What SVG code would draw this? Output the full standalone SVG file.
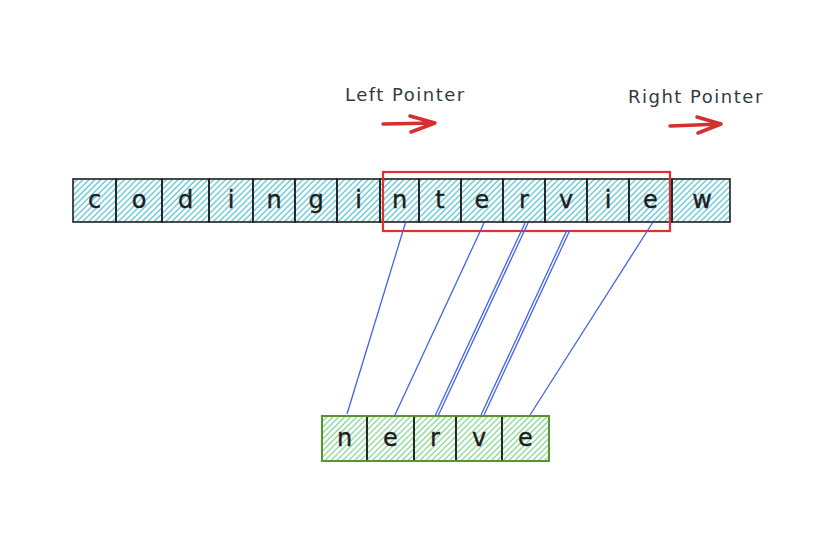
<svg xmlns="http://www.w3.org/2000/svg" width="825" height="547" viewBox="0 0 825 547">
<defs>
<pattern id="hatchC" patternUnits="userSpaceOnUse" width="4.2" height="4.2" patternTransform="rotate(45)">
<line x1="1" y1="0" x2="1" y2="4.2" stroke="#15aabf" stroke-opacity="0.65" stroke-width="1.4"/>
</pattern>
<pattern id="hatchG" patternUnits="userSpaceOnUse" width="4.2" height="4.2" patternTransform="rotate(45)">
<line x1="1" y1="0" x2="1" y2="4.2" stroke="#40c057" stroke-opacity="0.6" stroke-width="1.4"/>
</pattern>
</defs>
<style>
.tc{fill:url(#hatchC);stroke:#1e1e1e;stroke-width:1.6}
.gc{fill:url(#hatchG);stroke:#1e1e1e;stroke-width:1.6}
.lt{font-family:"DejaVu Sans",sans-serif;font-size:24px;fill:#1e1e1e;stroke:#1e1e1e;stroke-width:0.4;text-anchor:middle}
.lbl{font-family:"DejaVu Sans",sans-serif;font-size:18px;letter-spacing:1.5px;fill:#343a40}
.con{stroke:#4263eb;stroke-width:1.3;fill:none}
.arr{stroke:#d62f2f;stroke-width:3.5;fill:none;stroke-linecap:round;stroke-linejoin:round}
</style>
<rect width="825" height="547" fill="#ffffff"/>

<g id="top-row">
<g id="t0"><rect class="tc" x="73" y="179" width="43" height="43"/><text class="lt" x="94.5" y="208">c</text></g>
<g id="t1"><rect class="tc" x="116" y="179" width="46" height="43"/><text class="lt" x="139" y="208">o</text></g>
<g id="t2"><rect class="tc" x="162" y="179" width="47" height="43"/><text class="lt" x="185.5" y="208">d</text></g>
<g id="t3"><rect class="tc" x="209" y="179" width="44" height="43"/><text class="lt" x="231" y="208">i</text></g>
<g id="t4"><rect class="tc" x="253" y="179" width="42" height="43"/><text class="lt" x="274" y="208">n</text></g>
<g id="t5"><rect class="tc" x="295" y="179" width="42" height="43"/><text class="lt" x="316" y="208">g</text></g>
<g id="t6"><rect class="tc" x="337" y="179" width="43" height="43"/><text class="lt" x="358.5" y="208">i</text></g>
<g id="t7"><rect class="tc" x="380" y="179" width="39" height="43"/><text class="lt" x="399.5" y="208">n</text></g>
<g id="t8"><rect class="tc" x="419" y="179" width="42" height="43"/><text class="lt" x="440" y="208">t</text></g>
<g id="t9"><rect class="tc" x="461" y="179" width="42" height="43"/><text class="lt" x="482" y="208">e</text></g>
<g id="t10"><rect class="tc" x="503" y="179" width="42" height="43"/><text class="lt" x="524" y="208">r</text></g>
<g id="t11"><rect class="tc" x="545" y="179" width="42" height="43"/><text class="lt" x="566" y="208">v</text></g>
<g id="t12"><rect class="tc" x="587" y="179" width="42" height="43"/><text class="lt" x="608" y="208">i</text></g>
<g id="t13"><rect class="tc" x="629" y="179" width="43" height="43"/><text class="lt" x="650.5" y="208">e</text></g>
<g id="t14"><rect class="tc" x="672" y="179" width="58" height="43"/><text class="lt" x="702" y="208">w</text></g>
</g>

<g id="window">
<rect x="383" y="172" width="287" height="59" fill="none" stroke="#e03131" stroke-width="2.2"/>
</g>

<g id="bottom-row">
<g id="b0"><rect class="gc" x="322" y="416" width="45" height="45"/><text class="lt" x="344.5" y="446">n</text></g>
<g id="b1"><rect class="gc" x="367" y="416" width="47" height="45"/><text class="lt" x="390.5" y="446">e</text></g>
<g id="b2"><rect class="gc" x="414" y="416" width="42" height="45"/><text class="lt" x="435" y="446">r</text></g>
<g id="b3"><rect class="gc" x="456" y="416" width="46" height="45"/><text class="lt" x="479" y="446">v</text></g>
<g id="b4"><rect class="gc" x="502" y="416" width="47" height="45"/><text class="lt" x="525.5" y="446">e</text></g>
<rect x="322" y="416" width="227" height="45" fill="none" stroke="#5c9e2a" stroke-width="1.8"/>
</g>

<g id="left-pointer">
<text class="lbl" x="345" y="101">Left Pointer</text>
<path class="arr" d="M383 124 L435 123 M410 116 L435 123 L411 132"/>
</g>
<g id="right-pointer">
<text class="lbl" x="628" y="103">Right Pointer</text>
<path class="arr" d="M670 126 L721 124 M697 117 L721 124 L698 133"/>
</g>

<g id="connectors">
<line class="con" x1="406" y1="221" x2="347" y2="414"/>
<line class="con" x1="484" y1="223" x2="394" y2="417"/>
<line class="con" x1="525" y1="223" x2="435" y2="416"/>
<line class="con" x1="528" y1="223" x2="438" y2="416"/>
<line class="con" x1="567" y1="230" x2="481" y2="415"/>
<line class="con" x1="570" y1="230" x2="484" y2="415"/>
<line class="con" x1="653" y1="222" x2="530" y2="415"/>
</g>
</svg>
